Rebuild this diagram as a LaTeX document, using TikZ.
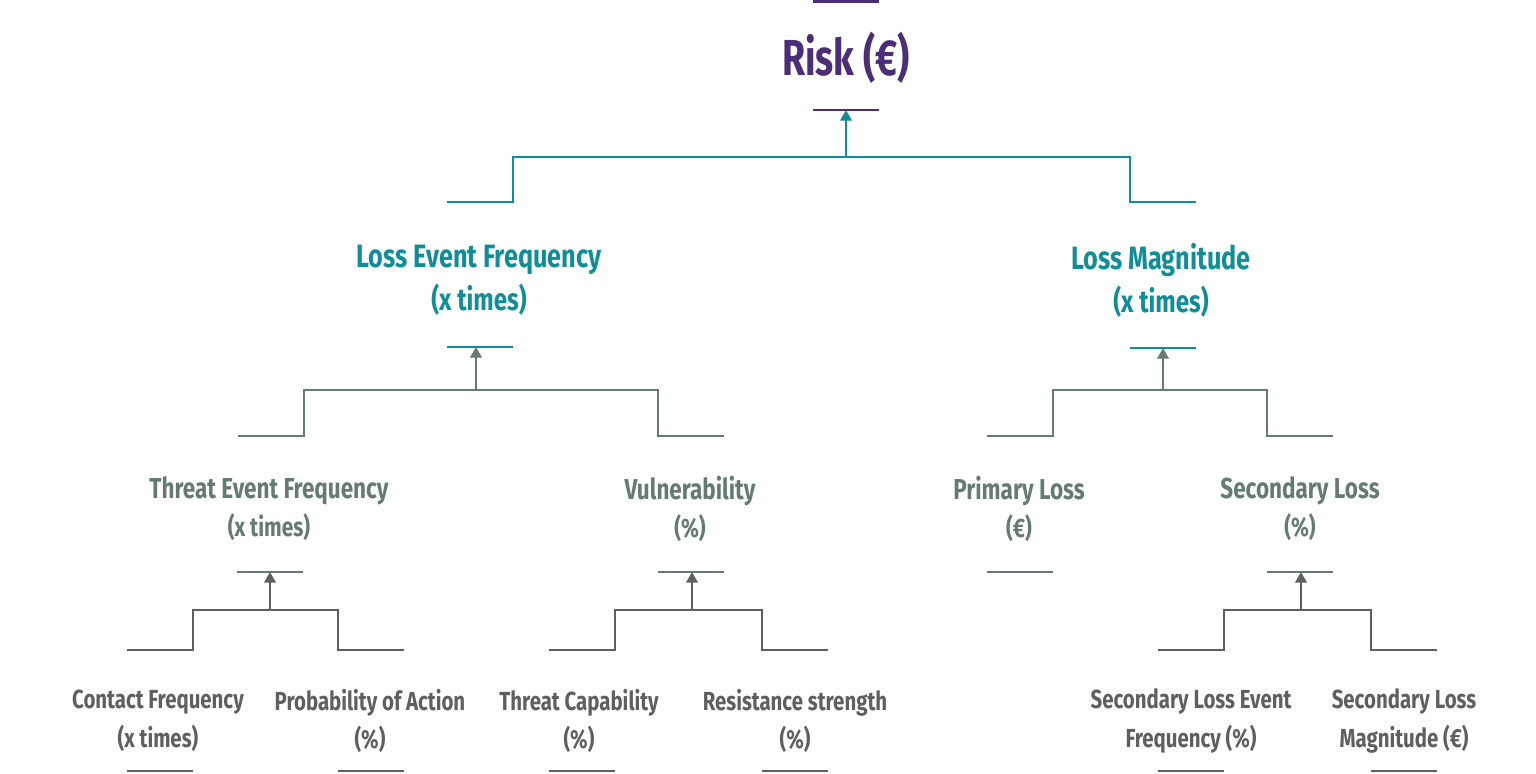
\documentclass[tikz,border=0pt]{standalone}
\usepackage{fontspec}
\setmainfont{Fira Sans}[FakeStretch=0.78]
\newfontfamily\riskfont{Fira Sans}[FakeStretch=0.74]
\usepackage{xcolor}
\usetikzlibrary{arrows.meta,calc}
\definecolor{riskpurple}{RGB}{75,45,120}
\definecolor{accent}{RGB}{16,142,152}
\definecolor{sage}{RGB}{100,122,114}
\definecolor{slate}{RGB}{95,95,95}
\newcommand{\mainhead}{\fontsize{23}{30.5}\selectfont}
\newcommand{\subhead}{\fontsize{20.5}{27}\selectfont}

\begin{document}
\begin{tikzpicture}[x=0.025cm,y=-0.025cm,
        risk node/.style={inner sep=0pt,text=riskpurple,font=\riskfont\fontsize{36}{40}\selectfont\bfseries},
        main node/.style={inner sep=0pt,align=center,text=accent,font=\fontsize{22}{30.5}\selectfont\bfseries},
        sub node/.style={inner sep=0pt,align=center,text=sage,font=\fontsize{19}{27}\selectfont\bfseries},
        leaf node/.style={inner sep=0pt,align=center,text=slate,font=\fontsize{18.6}{27.6}\selectfont\bfseries},
        bar spot/.style={inner sep=0pt,outer sep=0pt,minimum width=1.65cm,minimum height=0pt},
        line/.style={line width=1.9pt},
        tip/.style={-{Triangle[length=7.5pt,width=8pt]}}
      ]
      \useasboundingbox (0,0) rectangle (1536,774);

      % labels
      \node[risk node] (risk) at (846,58)   {Risk (€)};
      \node[main node] (lef)  at (479,280)  {{\mainhead Loss Event Frequency}\\(x times)};
      \node[main node] (lm)   at (1161,280) {{\mainhead Loss Magnitude}\\(x times)};
      \node[sub node]  (tef)  at (269,509)  {{\subhead Threat Event Frequency}\\(x times)};
      \node[sub node]  (vuln) at (690,509)  {{\subhead Vulnerability}\\(\%)};
      \node[sub node]  (pl)   at (1019,509) {{\subhead Primary Loss}\\(€)};
      \node[sub node]  (sl)   at (1300,509) {{\subhead Secondary Loss}\\(\%)};
      \node[leaf node] (cf)   at (158,721)  {Contact Frequency\\(x times)};
      \node[leaf node] (poa)  at (370,721)  {Probability of Action\\(\%)};
      \node[leaf node] (tc)   at (579,721)  {Threat Capability\\(\%)};
      \node[leaf node] (rs)   at (795,721)  {Resistance strength\\(\%)};
      \node[leaf node] (slef) at (1191,721) {Secondary Loss Event\\Frequency (\%)};
      \node[leaf node] (slm)  at (1404,721) {Secondary Loss\\Magnitude (€)};

      % bars above the labels
      \node[bar spot] (risk-t) at (846,1.5)  {};
      \node[bar spot] (lef-t)  at (480,202)  {};
      \node[bar spot] (lm-t)   at (1163,202) {};
      \node[bar spot] (tef-t)  at (271,436)  {};
      \node[bar spot] (vuln-t) at (691,436)  {};
      \node[bar spot] (pl-t)   at (1020,436) {};
      \node[bar spot] (sl-t)   at (1300,436) {};
      \node[bar spot] (cf-t)   at (160,650)  {};
      \node[bar spot] (poa-t)  at (371,650)  {};
      \node[bar spot] (tc-t)   at (582,650)  {};
      \node[bar spot] (rs-t)   at (795,650)  {};
      \node[bar spot] (slef-t) at (1191,650) {};
      \node[bar spot] (slm-t)  at (1404,650) {};

      % bars under the labels
      \node[bar spot] (risk-u) at (846,110)  {};
      \node[bar spot] (lef-u)  at (480,347)  {};
      \node[bar spot] (lm-u)   at (1163,348) {};
      \node[bar spot] (tef-u)  at (270,572)  {};
      \node[bar spot] (vuln-u) at (691,572)  {};
      \node[bar spot] (pl-u)   at (1020,572) {};
      \node[bar spot] (sl-u)   at (1300,572) {};
      \node[bar spot] (cf-u)   at (160,771)  {};
      \node[bar spot] (poa-u)  at (371,771)  {};
      \node[bar spot] (tc-u)   at (582,771)  {};
      \node[bar spot] (rs-u)   at (795,771)  {};
      \node[bar spot] (slef-u) at (1191,771) {};
      \node[bar spot] (slm-u)  at (1404,771) {};

      % junctions
      \coordinate (risk-j) at (846,157);
      \coordinate (lef-j)  at (476,390);
      \coordinate (lm-j)   at (1163,390);
      \coordinate (tef-j)  at (270,610);
      \coordinate (vuln-j) at (692,610);
      \coordinate (sl-j)   at (1301,610);

      \path[line,draw=riskpurple]
        (risk-t.west) edge (risk-t.east)
        (risk-u.west) edge (risk-u.east);
      \path[line,draw=accent]
        (lef-u.west) edge (lef-u.east)
        (lm-u.west) edge (lm-u.east);
      \path[line,draw=sage]
        (tef-u.west) edge (tef-u.east)
        (vuln-u.west) edge (vuln-u.east)
        (pl-u.west) edge (pl-u.east)
        (sl-u.west) edge (sl-u.east);
      \path[line,draw=slate]
        (cf-u.west) edge (cf-u.east)
        (poa-u.west) edge (poa-u.east)
        (tc-u.west) edge (tc-u.east)
        (rs-u.west) edge (rs-u.east)
        (slef-u.west) edge (slef-u.east)
        (slm-u.west) edge (slm-u.east);

      % step connectors
      \draw[line,accent] (lef-t.west) -- (lef-t.east) |- (risk-j) -| (lm-t.west) -- (lm-t.east);
      \draw[line,accent,tip] (risk-j) -- (risk-j |- risk-u);
      \draw[line,sage] (tef-t.west) -- (tef-t.east) |- (lef-j) -| (vuln-t.west) -- (vuln-t.east);
      \draw[line,sage,tip] (lef-j) -- (lef-j |- lef-u);
      \draw[line,sage] (pl-t.west) -- (pl-t.east) |- (lm-j) -| (sl-t.west) -- (sl-t.east);
      \draw[line,sage,tip] (lm-j) -- (lm-j |- lm-u);
      \draw[line,slate] (cf-t.west) -- (cf-t.east) |- (tef-j) -| (poa-t.west) -- (poa-t.east);
      \draw[line,slate,tip] (tef-j) -- (tef-j |- tef-u);
      \draw[line,slate] (tc-t.west) -- (tc-t.east) |- (vuln-j) -| (rs-t.west) -- (rs-t.east);
      \draw[line,slate,tip] (vuln-j) -- (vuln-j |- vuln-u);
      \draw[line,slate] (slef-t.west) -- (slef-t.east) |- (sl-j) -| (slm-t.west) -- (slm-t.east);
      \draw[line,slate,tip] (sl-j) -- (sl-j |- sl-u);
    \end{tikzpicture}
\end{document}
